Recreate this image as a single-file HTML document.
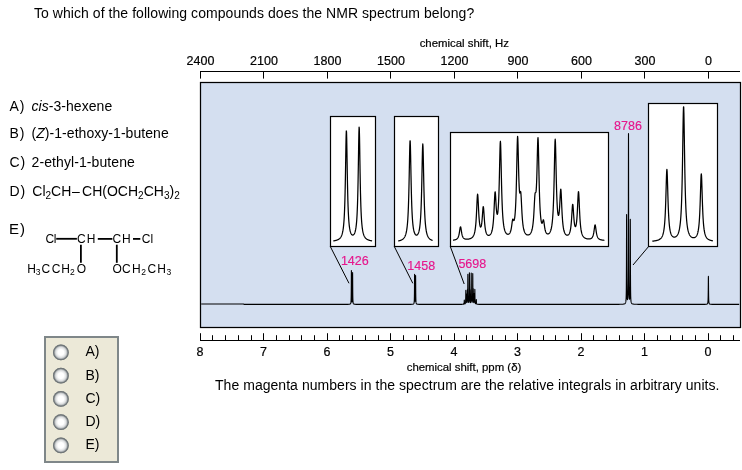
<!DOCTYPE html>
<html><head><meta charset="utf-8"><style>
html,body{margin:0;padding:0;background:#fff;}
body{width:742px;height:470px;overflow:hidden;position:relative;}
svg text{font-family:"Liberation Sans",Arial,sans-serif;}
.q{font-size:14px;fill:#000;}
.sub{font-size:10px;}
.st{font-size:12px;fill:#000;}
.ssub{font-size:8.5px;letter-spacing:0;}
.r{font-size:14px;fill:#000;}
.ax{font-size:12.5px;fill:#000;stroke:#000;stroke-width:0.2px;}
.mg{font-size:12.5px;fill:#e6168c;stroke:#e6168c;stroke-width:0.15px;}
</style></head><body>
<svg width="742" height="470" viewBox="0 0 742 470" style="position:absolute;left:0;top:0">
<defs>
<radialGradient id="rg" cx="50%" cy="50%" r="50%">
<stop offset="0" stop-color="#ffffff"/>
<stop offset="0.36" stop-color="#ffffff"/>
<stop offset="0.64" stop-color="#dfe1e2"/>
<stop offset="0.83" stop-color="#a2a7aa"/>
<stop offset="1" stop-color="#6c7275"/>
</radialGradient>
</defs>
<text x="34" y="18" class="q" textLength="440.2" lengthAdjust="spacing">To which of the following compounds does the NMR spectrum belong?</text>
<text x="72" y="196.3" class="q">–</text>
<text x="82.1" y="196.3" class="q">CH(OCH<tspan class="sub" dy="3">2</tspan><tspan dy="-3">CH</tspan><tspan class="sub" dy="3">3</tspan><tspan dy="-3">)</tspan><tspan class="sub" dy="3">2</tspan></text>
<text x="9.5" y="111.0" class="q">A<tspan dx="0.8">)</tspan></text>
<text x="31.5" y="111.0" class="q" textLength="80.7" lengthAdjust="spacing"><tspan font-style="italic">cis</tspan>-3-hexene</text>
<text x="9.5" y="138.4" class="q">B<tspan dx="0.8">)</tspan></text>
<text x="31.5" y="138.4" class="q" textLength="137.2" lengthAdjust="spacing">(<tspan font-style="italic">Z</tspan>)-1-ethoxy-1-butene</text>
<text x="9.5" y="166.6" class="q">C<tspan dx="0.8">)</tspan></text>
<text x="31.5" y="166.6" class="q" textLength="103.4" lengthAdjust="spacing">2-ethyl-1-butene</text>
<text x="9.5" y="196.3" class="q">D<tspan dx="0.8">)</tspan></text>
<text x="32.3" y="196.3" class="q">Cl<tspan class="sub" dy="3">2</tspan><tspan dy="-3">CH</tspan></text>
<text x="9" y="233.8" class="q" style="font-size:15px">E<tspan dx="0.9">)</tspan></text>
<text class="st" y="242.8"><tspan x="45.5 53.8">Cl</tspan><tspan x="77 86.75">CH</tspan><tspan x="112.6 121.95">CH</tspan><tspan x="141.7 150.4">Cl</tspan></text>
<text class="st" y="272.6"><tspan x="27.15">H</tspan><tspan class="ssub" x="35.65" y="274.9">3</tspan><tspan x="41.4 51.8 61.15" y="272.6">CCH</tspan><tspan class="ssub" x="69.95" y="274.9">2</tspan><tspan x="76.7" y="272.6">O</tspan></text>
<text class="st" y="272.6"><tspan x="112.5 122.1 132.05">OCH</tspan><tspan class="ssub" x="141.25" y="274.9">2</tspan><tspan x="147.5 157.25" y="272.6">CH</tspan><tspan class="ssub" x="166.55" y="274.9">3</tspan></text>
<line x1="56.2" y1="238.8" x2="76.9" y2="238.8" stroke="#000" stroke-width="1.8"/>
<line x1="97.8" y1="238.9" x2="112.4" y2="238.9" stroke="#000" stroke-width="1.8"/>
<line x1="133" y1="238.9" x2="140.3" y2="238.9" stroke="#000" stroke-width="1.8"/>
<line x1="80.9" y1="244.7" x2="80.9" y2="262.8" stroke="#000" stroke-width="1.8"/>
<line x1="116.8" y1="244.7" x2="116.8" y2="262.8" stroke="#000" stroke-width="1.8"/>
<rect x="45" y="337" width="73" height="125" fill="#ece9d8" stroke="#7f8789" stroke-width="2"/>
<circle cx="60.9" cy="352.40" r="7.9" fill="url(#rg)"/>
<circle cx="60.9" cy="352.40" r="7.25" fill="none" stroke="#6a7073" stroke-width="1.1" stroke-opacity="0.8"/>
<text x="85.5" y="356.30" class="r">A)</text>
<circle cx="60.9" cy="375.65" r="7.9" fill="url(#rg)"/>
<circle cx="60.9" cy="375.65" r="7.25" fill="none" stroke="#6a7073" stroke-width="1.1" stroke-opacity="0.8"/>
<text x="85.5" y="379.55" class="r">B)</text>
<circle cx="60.9" cy="398.90" r="7.9" fill="url(#rg)"/>
<circle cx="60.9" cy="398.90" r="7.25" fill="none" stroke="#6a7073" stroke-width="1.1" stroke-opacity="0.8"/>
<text x="85.5" y="402.80" class="r">C)</text>
<circle cx="60.9" cy="422.15" r="7.9" fill="url(#rg)"/>
<circle cx="60.9" cy="422.15" r="7.25" fill="none" stroke="#6a7073" stroke-width="1.1" stroke-opacity="0.8"/>
<text x="85.5" y="426.05" class="r">D)</text>
<circle cx="60.9" cy="445.40" r="7.9" fill="url(#rg)"/>
<circle cx="60.9" cy="445.40" r="7.25" fill="none" stroke="#6a7073" stroke-width="1.1" stroke-opacity="0.8"/>
<text x="85.5" y="449.30" class="r">E)</text>
<text x="464.3" y="46.8" class="ax" text-anchor="middle" style="font-size:11.4px">chemical shift, Hz</text>
<text x="708.50" y="64.8" class="ax" text-anchor="middle">0</text>
<line x1="708.5" y1="71" x2="708.5" y2="78.6" stroke="#000" stroke-width="1.05"/>
<text x="645.00" y="64.8" class="ax" text-anchor="middle">300</text>
<line x1="644.5" y1="71" x2="644.5" y2="78.6" stroke="#000" stroke-width="1.05"/>
<text x="581.50" y="64.8" class="ax" text-anchor="middle">600</text>
<line x1="581.5" y1="71" x2="581.5" y2="78.6" stroke="#000" stroke-width="1.05"/>
<text x="518.00" y="64.8" class="ax" text-anchor="middle">900</text>
<line x1="517.5" y1="71" x2="517.5" y2="78.6" stroke="#000" stroke-width="1.05"/>
<text x="454.50" y="64.8" class="ax" text-anchor="middle">1200</text>
<line x1="454.5" y1="71" x2="454.5" y2="78.6" stroke="#000" stroke-width="1.05"/>
<text x="391.00" y="64.8" class="ax" text-anchor="middle">1500</text>
<line x1="390.5" y1="71" x2="390.5" y2="78.6" stroke="#000" stroke-width="1.05"/>
<text x="327.50" y="64.8" class="ax" text-anchor="middle">1800</text>
<line x1="327.5" y1="71" x2="327.5" y2="78.6" stroke="#000" stroke-width="1.05"/>
<text x="264.00" y="64.8" class="ax" text-anchor="middle">2100</text>
<line x1="263.5" y1="71" x2="263.5" y2="78.6" stroke="#000" stroke-width="1.05"/>
<text x="200.50" y="64.8" class="ax" text-anchor="middle">2400</text>
<line x1="200.5" y1="71" x2="200.5" y2="78.6" stroke="#000" stroke-width="1.05"/>
<line x1="200" y1="71.5" x2="740" y2="71.5" stroke="#000" stroke-width="1.05"/>
<rect x="200.5" y="82.5" width="540" height="245" fill="#d4dff0" stroke="#000" stroke-width="1.25"/>
<line x1="200" y1="340.5" x2="740" y2="340.5" stroke="#000" stroke-width="1.05"/>
<line x1="200.5" y1="333.2" x2="200.5" y2="340.5" stroke="#000" stroke-width="1.05"/>
<line x1="212.5" y1="335.2" x2="212.5" y2="340.5" stroke="#000" stroke-width="1.05"/>
<line x1="225.5" y1="335.2" x2="225.5" y2="340.5" stroke="#000" stroke-width="1.05"/>
<line x1="238.5" y1="335.2" x2="238.5" y2="340.5" stroke="#000" stroke-width="1.05"/>
<line x1="251.5" y1="335.2" x2="251.5" y2="340.5" stroke="#000" stroke-width="1.05"/>
<line x1="263.5" y1="333.2" x2="263.5" y2="340.5" stroke="#000" stroke-width="1.05"/>
<line x1="276.5" y1="335.2" x2="276.5" y2="340.5" stroke="#000" stroke-width="1.05"/>
<line x1="289.5" y1="335.2" x2="289.5" y2="340.5" stroke="#000" stroke-width="1.05"/>
<line x1="301.5" y1="335.2" x2="301.5" y2="340.5" stroke="#000" stroke-width="1.05"/>
<line x1="314.5" y1="335.2" x2="314.5" y2="340.5" stroke="#000" stroke-width="1.05"/>
<line x1="327.5" y1="333.2" x2="327.5" y2="340.5" stroke="#000" stroke-width="1.05"/>
<line x1="339.5" y1="335.2" x2="339.5" y2="340.5" stroke="#000" stroke-width="1.05"/>
<line x1="352.5" y1="335.2" x2="352.5" y2="340.5" stroke="#000" stroke-width="1.05"/>
<line x1="365.5" y1="335.2" x2="365.5" y2="340.5" stroke="#000" stroke-width="1.05"/>
<line x1="378.5" y1="335.2" x2="378.5" y2="340.5" stroke="#000" stroke-width="1.05"/>
<line x1="390.5" y1="333.2" x2="390.5" y2="340.5" stroke="#000" stroke-width="1.05"/>
<line x1="403.5" y1="335.2" x2="403.5" y2="340.5" stroke="#000" stroke-width="1.05"/>
<line x1="416.5" y1="335.2" x2="416.5" y2="340.5" stroke="#000" stroke-width="1.05"/>
<line x1="428.5" y1="335.2" x2="428.5" y2="340.5" stroke="#000" stroke-width="1.05"/>
<line x1="441.5" y1="335.2" x2="441.5" y2="340.5" stroke="#000" stroke-width="1.05"/>
<line x1="454.5" y1="333.2" x2="454.5" y2="340.5" stroke="#000" stroke-width="1.05"/>
<line x1="466.5" y1="335.2" x2="466.5" y2="340.5" stroke="#000" stroke-width="1.05"/>
<line x1="479.5" y1="335.2" x2="479.5" y2="340.5" stroke="#000" stroke-width="1.05"/>
<line x1="492.5" y1="335.2" x2="492.5" y2="340.5" stroke="#000" stroke-width="1.05"/>
<line x1="505.5" y1="335.2" x2="505.5" y2="340.5" stroke="#000" stroke-width="1.05"/>
<line x1="517.5" y1="333.2" x2="517.5" y2="340.5" stroke="#000" stroke-width="1.05"/>
<line x1="530.5" y1="335.2" x2="530.5" y2="340.5" stroke="#000" stroke-width="1.05"/>
<line x1="543.5" y1="335.2" x2="543.5" y2="340.5" stroke="#000" stroke-width="1.05"/>
<line x1="555.5" y1="335.2" x2="555.5" y2="340.5" stroke="#000" stroke-width="1.05"/>
<line x1="568.5" y1="335.2" x2="568.5" y2="340.5" stroke="#000" stroke-width="1.05"/>
<line x1="581.5" y1="333.2" x2="581.5" y2="340.5" stroke="#000" stroke-width="1.05"/>
<line x1="593.5" y1="335.2" x2="593.5" y2="340.5" stroke="#000" stroke-width="1.05"/>
<line x1="606.5" y1="335.2" x2="606.5" y2="340.5" stroke="#000" stroke-width="1.05"/>
<line x1="619.5" y1="335.2" x2="619.5" y2="340.5" stroke="#000" stroke-width="1.05"/>
<line x1="632.5" y1="335.2" x2="632.5" y2="340.5" stroke="#000" stroke-width="1.05"/>
<line x1="644.5" y1="333.2" x2="644.5" y2="340.5" stroke="#000" stroke-width="1.05"/>
<line x1="657.5" y1="335.2" x2="657.5" y2="340.5" stroke="#000" stroke-width="1.05"/>
<line x1="670.5" y1="335.2" x2="670.5" y2="340.5" stroke="#000" stroke-width="1.05"/>
<line x1="682.5" y1="335.2" x2="682.5" y2="340.5" stroke="#000" stroke-width="1.05"/>
<line x1="695.5" y1="335.2" x2="695.5" y2="340.5" stroke="#000" stroke-width="1.05"/>
<line x1="708.5" y1="333.2" x2="708.5" y2="340.5" stroke="#000" stroke-width="1.05"/>
<line x1="720.5" y1="335.2" x2="720.5" y2="340.5" stroke="#000" stroke-width="1.05"/>
<line x1="733.5" y1="335.2" x2="733.5" y2="340.5" stroke="#000" stroke-width="1.05"/>
<text x="708.10" y="356" class="ax" text-anchor="middle">0</text>
<text x="644.60" y="356" class="ax" text-anchor="middle">1</text>
<text x="581.10" y="356" class="ax" text-anchor="middle">2</text>
<text x="517.60" y="356" class="ax" text-anchor="middle">3</text>
<text x="454.10" y="356" class="ax" text-anchor="middle">4</text>
<text x="390.60" y="356" class="ax" text-anchor="middle">5</text>
<text x="327.10" y="356" class="ax" text-anchor="middle">6</text>
<text x="263.60" y="356" class="ax" text-anchor="middle">7</text>
<text x="200.10" y="356" class="ax" text-anchor="middle">8</text>
<text x="464" y="370.7" class="ax" text-anchor="middle" style="font-size:11.4px">chemical shift, ppm (δ)</text>
<text x="215" y="389.7" class="q" textLength="504.4" lengthAdjust="spacing">The magenta numbers in the spectrum are the relative integrals in arbitrary units.</text>
<polyline points="201.2,303.95 201.7,303.95 202.2,303.95 202.7,303.95 203.2,303.95 203.7,303.95 204.2,303.95 204.7,303.95 205.2,303.95 205.7,303.95 206.2,303.95 206.7,303.95 207.2,303.95 207.7,303.95 208.2,303.95 208.7,303.95 209.2,303.95 209.7,303.95 210.2,303.95 210.7,303.95 211.2,303.95 211.7,303.95 212.2,303.95 212.7,303.95 213.2,303.95 213.7,303.95 214.2,303.95 214.7,303.95 215.2,303.95 215.7,303.95 216.2,303.95 216.7,303.95 217.2,303.95 217.7,303.95 218.2,303.95 218.7,303.95 219.2,303.95 219.7,303.95 220.2,303.95 220.7,303.95 221.2,303.95 221.7,303.95 222.2,303.95 222.7,303.95 223.2,303.95 223.7,303.95 224.2,303.95 224.7,303.95 225.2,303.95 225.7,303.95 226.2,303.95 226.7,303.95 227.2,303.95 227.7,303.95 228.2,303.95 228.7,303.95 229.2,303.95 229.7,303.95 230.2,303.95 230.7,303.95 231.2,303.95 231.7,303.95 232.2,303.95 232.7,303.95 233.2,303.95 233.7,303.95 234.2,303.95 234.7,303.95 235.2,303.95 235.7,303.95 236.2,303.95 236.7,303.95 237.2,303.95 237.7,303.95 238.2,303.95 238.7,303.95 239.2,303.95 239.7,303.95 240.2,303.95 240.7,303.95 241.2,303.95 241.7,303.95 242.2,303.95 242.7,303.95 243.2,303.95 243.7,303.95 243.9,304.4 244.2,304.4 244.7,304.4 245.2,304.4 245.7,304.4 246.2,304.4 246.7,304.4 247.2,304.4 247.7,304.4 248.2,304.4 248.7,304.4 249.2,304.4 249.7,304.4 250.2,304.4 250.7,304.4 251.2,304.4 251.7,304.4 252.2,304.4 252.7,304.4 253.2,304.4 253.7,304.4 254.2,304.4 254.7,304.4 255.2,304.4 255.7,304.4 256.2,304.4 256.7,304.4 257.2,304.4 257.7,304.4 258.2,304.4 258.7,304.4 259.2,304.4 259.7,304.4 260.2,304.4 260.7,304.4 261.2,304.4 261.7,304.4 262.2,304.4 262.7,304.4 263.2,304.4 263.7,304.4 264.2,304.4 264.7,304.4 265.2,304.4 265.7,304.4 266.2,304.4 266.7,304.4 267.2,304.4 267.7,304.4 268.2,304.4 268.7,304.4 269.2,304.4 269.7,304.4 270.2,304.4 270.7,304.4 271.2,304.4 271.7,304.4 272.2,304.4 272.7,304.4 273.2,304.4 273.7,304.4 274.2,304.4 274.7,304.4 275.2,304.4 275.7,304.4 276.2,304.4 276.7,304.4 277.2,304.4 277.7,304.4 278.2,304.4 278.7,304.4 279.2,304.4 279.7,304.4 280.2,304.4 280.7,304.4 281.2,304.4 281.7,304.4 282.2,304.4 282.7,304.4 283.2,304.4 283.7,304.4 284.2,304.4 284.7,304.4 285.2,304.4 285.7,304.4 286.2,304.4 286.7,304.4 287.2,304.4 287.7,304.4 288.2,304.4 288.7,304.4 289.2,304.4 289.7,304.4 290.2,304.4 290.7,304.4 291.2,304.4 291.7,304.4 292.2,304.4 292.7,304.4 293.2,304.4 293.7,304.4 294.2,304.4 294.7,304.4 295.2,304.4 295.7,304.4 296.2,304.4 296.7,304.4 297.2,304.4 297.7,304.4 298.2,304.4 298.7,304.4 299.2,304.4 299.7,304.4 300.2,304.4 300.7,304.4 301.2,304.4 301.7,304.4 302.2,304.4 302.7,304.4 303.2,304.4 303.7,304.4 304.2,304.4 304.7,304.4 305.2,304.4 305.7,304.4 306.2,304.4 306.7,304.4 307.2,304.4 307.7,304.4 308.2,304.4 308.7,304.4 309.2,304.4 309.7,304.4 310.2,304.4 310.7,304.4 311.2,304.4 311.7,304.4 312.2,304.4 312.7,304.4 313.2,304.4 313.7,304.4 314.2,304.4 314.7,304.4 315.2,304.4 315.7,304.4 316.2,304.4 316.7,304.4 317.2,304.4 317.7,304.4 318.2,304.4 318.7,304.4 319.2,304.4 319.7,304.4 320.2,304.4 320.7,304.4 321.2,304.4 321.7,304.4 322.2,304.4 322.7,304.4 323.2,304.4 323.7,304.4 324.2,304.4 324.7,304.4 325.2,304.4 325.7,304.4 326.2,304.4 326.7,304.4 327.2,304.4 327.7,304.4 328.2,304.4 328.7,304.4 329.2,304.4 329.7,304.4 330.2,304.4 330.7,304.4 331.2,304.4 331.7,304.4 332.2,304.4 332.7,304.4 333.2,304.4 333.7,304.4 334.2,304.4 334.7,304.4 335.2,304.4 335.7,304.4 336.2,304.4 336.7,304.4 337.2,304.4 337.7,304.39 338.2,304.39 338.7,304.39 339.2,304.39 339.7,304.39 340.2,304.39 340.7,304.39 341.2,304.39 341.7,304.39 342.2,304.39 342.7,304.39 343.2,304.39 343.7,304.39 344.2,304.38 344.7,304.38 345.2,304.38 345.7,304.38 346.2,304.37 346.7,304.36 347.2,304.36 347.7,304.35 348.2,304.33 348.7,304.3 349.2,304.26 349.7,304.18 349.9,304.12 349.95,304.11 350,304.09 350.05,304.07 350.1,304.04 350.15,304.02 350.2,303.99 350.25,303.96 350.3,303.92 350.35,303.88 350.4,303.83 350.45,303.78 350.5,303.71 350.55,303.64 350.6,303.55 350.65,303.44 350.7,303.32 350.75,303.16 350.8,302.97 350.85,302.73 350.9,302.42 350.95,302.01 351,301.46 351.05,300.69 351.1,299.58 351.1,299.58 351.15,297.91 351.15,297.91 351.2,295.3 351.2,295.3 351.25,291.08 351.3,284.36 351.3,284.36 351.35,275.57 351.35,275.57 351.4,270.59 351.4,270.59 351.45,275.52 351.45,275.52 351.5,284.26 351.55,290.92 351.55,290.92 351.6,295.08 351.6,295.08 351.65,297.63 351.65,297.63 351.7,299.23 351.7,299.23 351.75,300.26 351.8,300.94 351.8,300.94 351.85,301.39 351.85,301.39 351.9,301.68 351.9,301.68 351.95,301.84 351.95,301.84 352,301.9 352.05,301.86 352.05,301.86 352.1,301.73 352.1,301.73 352.15,301.47 352.15,301.47 352.2,301.06 352.2,301.06 352.25,300.43 352.3,299.47 352.3,299.47 352.35,297.97 352.35,297.97 352.4,295.59 352.4,295.59 352.45,291.67 352.45,291.67 352.5,285.42 352.55,277.2 352.55,277.2 352.6,272.57 352.6,272.57 352.65,277.25 352.65,277.25 352.7,285.53 352.7,285.53 352.75,291.84 352.8,295.82 352.8,295.82 352.85,298.27 352.85,298.27 352.9,299.84 352.9,299.84 352.95,300.89 353,301.61 353.05,302.13 353.1,302.52 353.15,302.81 353.2,303.04 353.2,303.04 353.25,303.22 353.3,303.37 353.35,303.49 353.4,303.59 353.45,303.67 353.5,303.74 353.55,303.8 353.6,303.85 353.65,303.9 353.7,303.94 353.7,303.94 353.75,303.97 353.8,304 353.85,304.03 353.9,304.06 353.95,304.08 354,304.1 354.05,304.12 354.1,304.13 354.2,304.16 354.7,304.25 355.2,304.3 355.7,304.33 356.2,304.34 356.7,304.36 357.2,304.36 357.7,304.37 358.2,304.37 358.7,304.38 359.2,304.38 359.7,304.38 360.2,304.39 360.7,304.39 361.2,304.39 361.7,304.39 362.2,304.39 362.7,304.39 363.2,304.39 363.7,304.39 364.2,304.39 364.7,304.39 365.2,304.39 365.7,304.39 366.2,304.39 366.7,304.39 367.2,304.4 367.7,304.4 368.2,304.4 368.7,304.4 369.2,304.4 369.7,304.4 370.2,304.4 370.7,304.4 371.2,304.4 371.7,304.4 372.2,304.4 372.7,304.4 373.2,304.4 373.7,304.4 374.2,304.4 374.7,304.4 375.2,304.4 375.7,304.4 376.2,304.4 376.7,304.4 377.2,304.4 377.7,304.4 378.2,304.4 378.7,304.4 379.2,304.4 379.7,304.4 380.2,304.4 380.7,304.4 381.2,304.4 381.7,304.4 382.2,304.4 382.7,304.4 383.2,304.4 383.7,304.4 384.2,304.4 384.7,304.4 385.2,304.4 385.7,304.4 386.2,304.4 386.7,304.4 387.2,304.4 387.7,304.4 388.2,304.4 388.7,304.4 389.2,304.4 389.7,304.4 390.2,304.4 390.7,304.4 391.2,304.4 391.7,304.4 392.2,304.4 392.7,304.4 393.2,304.4 393.7,304.4 394.2,304.4 394.7,304.4 395.2,304.4 395.7,304.4 396.2,304.4 396.7,304.4 397.2,304.4 397.7,304.4 398.2,304.4 398.7,304.4 399.2,304.4 399.7,304.4 400.2,304.4 400.7,304.39 401.2,304.39 401.7,304.39 402.2,304.39 402.7,304.39 403.2,304.39 403.7,304.39 404.2,304.39 404.7,304.39 405.2,304.39 405.7,304.39 406.2,304.39 406.7,304.39 407.2,304.39 407.7,304.38 408.2,304.38 408.7,304.38 409.2,304.37 409.7,304.37 410.2,304.36 410.7,304.35 411.2,304.34 411.7,304.32 412.2,304.29 412.7,304.23 413.1,304.14 413.15,304.13 413.2,304.11 413.2,304.11 413.25,304.09 413.3,304.07 413.35,304.05 413.4,304.02 413.45,303.99 413.5,303.96 413.55,303.92 413.6,303.87 413.65,303.82 413.7,303.76 413.7,303.76 413.75,303.7 413.8,303.62 413.85,303.52 413.9,303.41 413.95,303.27 414,303.09 414.05,302.87 414.1,302.59 414.15,302.23 414.2,301.73 414.2,301.73 414.25,301.04 414.3,300.05 414.35,298.56 414.4,296.23 414.45,292.46 414.5,286.48 414.55,278.64 414.6,274.19 414.65,278.56 414.7,286.31 414.7,286.31 414.75,292.21 414.8,295.88 414.85,298.11 414.9,299.47 414.95,300.32 415,300.84 415.05,301.13 415.1,301.22 415.15,301.15 415.2,300.9 415.2,300.9 415.25,300.42 415.3,299.62 415.35,298.32 415.4,296.2 415.45,292.69 415.5,287.06 415.55,279.65 415.6,275.48 415.65,279.73 415.7,287.23 415.7,287.23 415.75,292.96 415.8,296.56 415.85,298.79 415.9,300.22 415.95,301.17 416,301.83 416.05,302.3 416.1,302.66 416.15,302.93 416.2,303.14 416.2,303.14 416.25,303.3 416.3,303.44 416.35,303.55 416.4,303.64 416.45,303.72 416.5,303.78 416.55,303.84 416.6,303.89 416.65,303.93 416.7,303.97 416.7,303.97 416.75,304 416.8,304.03 416.85,304.05 416.9,304.08 416.95,304.1 417,304.12 417.05,304.13 417.1,304.15 417.2,304.18 417.7,304.26 418.2,304.3 418.7,304.33 419.2,304.35 419.7,304.36 420.2,304.37 420.7,304.37 421.2,304.38 421.7,304.38 422.2,304.38 422.7,304.38 423.2,304.39 423.7,304.39 424.2,304.39 424.7,304.39 425.2,304.39 425.7,304.39 426.2,304.39 426.7,304.39 427.2,304.39 427.7,304.39 428.2,304.39 428.7,304.39 429.2,304.39 429.7,304.39 430.2,304.39 430.7,304.39 431.2,304.39 431.7,304.39 432.2,304.39 432.7,304.39 433.2,304.39 433.7,304.39 434.2,304.4 434.7,304.4 435.2,304.4 435.7,304.4 436.2,304.4 436.7,304.4 437.2,304.4 437.7,304.4 438.2,304.4 438.7,304.4 439.2,304.4 439.7,304.39 440.2,304.39 440.7,304.39 441.2,304.39 441.7,304.39 442.2,304.39 442.7,304.39 443.2,304.39 443.7,304.39 444.2,304.39 444.7,304.39 445.2,304.39 445.7,304.39 446.2,304.39 446.7,304.39 447.2,304.39 447.7,304.39 448.2,304.39 448.7,304.39 449.2,304.39 449.7,304.39 450.2,304.39 450.7,304.39 451.2,304.39 451.7,304.39 452.2,304.39 452.7,304.39 453.2,304.39 453.7,304.39 454.2,304.39 454.7,304.39 455.2,304.38 455.7,304.38 456.2,304.38 456.7,304.38 457.2,304.38 457.7,304.38 458.2,304.37 458.7,304.37 459.2,304.37 459.7,304.36 460.2,304.36 460.7,304.35 461.2,304.35 461.7,304.34 462.2,304.32 462.7,304.3 462.8,304.29 462.85,304.29 462.9,304.28 462.95,304.28 463,304.28 463.05,304.27 463.1,304.27 463.15,304.26 463.2,304.25 463.25,304.25 463.3,304.24 463.35,304.23 463.4,304.22 463.45,304.21 463.5,304.2 463.55,304.18 463.6,304.17 463.65,304.14 463.7,304.12 463.75,304.09 463.8,304.05 463.85,304 463.9,303.93 463.95,303.84 464,303.7 464.05,303.5 464.1,303.19 464.15,302.68 464.2,301.85 464.25,300.73 464.3,300.08 464.33,300.28 464.35,300.71 464.38,301.32 464.4,301.81 464.43,302.29 464.45,302.62 464.48,302.92 464.5,303.12 464.53,303.29 464.55,303.41 464.58,303.52 464.6,303.59 464.63,303.66 464.65,303.71 464.68,303.75 464.7,303.78 464.73,303.8 464.75,303.82 464.78,303.84 464.8,303.84 464.83,303.85 464.84,303.85 464.85,303.85 464.88,303.86 464.89,303.86 464.9,303.85 464.93,303.85 464.94,303.85 464.95,303.84 464.98,303.83 464.99,303.83 465,303.82 465.03,303.81 465.04,303.8 465.05,303.79 465.08,303.77 465.09,303.77 465.1,303.75 465.13,303.73 465.14,303.72 465.15,303.7 465.18,303.67 465.19,303.66 465.2,303.64 465.23,303.59 465.24,303.58 465.25,303.55 465.28,303.5 465.29,303.48 465.3,303.44 465.33,303.37 465.34,303.34 465.35,303.3 465.38,303.21 465.39,303.17 465.4,303.11 465.43,302.98 465.44,302.93 465.45,302.85 465.48,302.67 465.49,302.61 465.5,302.49 465.53,302.23 465.54,302.13 465.55,301.96 465.58,301.57 465.59,301.42 465.6,301.14 465.63,300.53 465.64,300.28 465.65,299.85 465.68,298.84 465.69,298.44 465.7,297.72 465.73,296.1 465.74,295.48 465.75,294.44 465.78,292.41 465.79,291.79 465.8,290.95 465.83,290.22 465.84,290.28 465.88,292.22 465.89,292.84 465.89,293.1 465.93,295.69 465.94,296.23 465.94,296.43 465.98,298.18 465.99,298.49 465.99,298.61 466.03,299.54 466.04,299.69 466.04,299.75 466.08,300.12 466.09,300.16 466.09,300.17 466.13,300.1 466.14,300.03 466.14,300 466.18,299.46 466.19,299.26 466.19,299.18 466.2,298.9 466.23,298.01 466.24,297.65 466.24,297.5 466.28,295.73 466.29,295.31 466.29,295.15 466.33,294 466.34,293.97 466.34,293.98 466.36,294.48 466.38,295.07 466.39,295.51 466.39,295.69 466.41,296.92 466.43,297.64 466.44,298.07 466.44,298.24 466.46,299.19 466.48,299.69 466.49,299.96 466.49,300.07 466.51,300.65 466.53,300.95 466.54,301.12 466.54,301.18 466.56,301.53 466.58,301.71 466.59,301.81 466.59,301.84 466.61,302.05 466.63,302.16 466.64,302.22 466.64,302.25 466.66,302.37 466.68,302.44 466.69,302.48 466.69,302.49 466.7,302.53 466.71,302.56 466.73,302.6 466.74,302.62 466.74,302.63 466.76,302.66 466.78,302.68 466.79,302.69 466.79,302.69 466.81,302.69 466.83,302.69 466.84,302.69 466.84,302.69 466.86,302.67 466.88,302.65 466.89,302.63 466.89,302.63 466.91,302.58 466.93,302.55 466.94,302.52 466.94,302.51 466.96,302.43 466.98,302.37 466.99,302.33 466.99,302.31 467.01,302.19 467.03,302.11 467.04,302.05 467.04,302.02 467.06,301.84 467.08,301.71 467.09,301.62 467.09,301.58 467.11,301.31 467.13,301.11 467.14,300.97 467.14,300.91 467.16,300.49 467.18,300.17 467.19,299.96 467.19,299.87 467.2,299.57 467.21,299.18 467.23,298.68 467.24,298.32 467.24,298.17 467.26,297.05 467.28,296.24 467.29,295.68 467.29,295.45 467.31,293.79 467.33,292.71 467.34,292.03 467.34,291.77 467.36,290.29 467.39,289.51 467.39,289.48 467.41,289.81 467.44,290.91 467.44,291.11 467.46,292.43 467.46,292.54 467.49,293.87 467.49,294.06 467.51,295.01 467.51,295.08 467.54,295.79 467.54,295.87 467.56,296.22 467.56,296.24 467.59,296.33 467.59,296.32 467.61,296.14 467.61,296.11 467.64,295.64 467.64,295.54 467.66,294.79 467.66,294.71 467.69,293.54 467.69,293.32 467.7,292.61 467.71,291.79 467.71,291.65 467.74,289.45 467.74,289.06 467.76,286.42 467.76,286.18 467.79,282.76 467.79,282.2 467.81,278.85 467.81,278.58 467.84,275.58 467.84,275.24 467.86,274.19 467.86,274.19 467.89,275.72 467.9,276.78 467.91,278.57 467.91,278.85 467.94,283.19 467.95,284.61 467.96,286.5 467.96,286.75 467.99,290.21 468,291.2 468.01,292.44 468.01,292.6 468.04,294.75 468.05,295.35 468.06,296.1 468.06,296.2 468.09,297.5 468.1,297.87 468.11,298.33 468.11,298.39 468.14,299.2 468.15,299.43 468.16,299.73 468.16,299.77 468.18,300.2 468.19,300.29 468.2,300.45 468.2,300.48 468.21,300.64 468.21,300.67 468.23,300.96 468.24,301.02 468.25,301.12 468.26,301.26 468.26,301.28 468.28,301.47 468.29,301.52 468.3,301.59 468.31,301.68 468.31,301.69 468.33,301.83 468.34,301.86 468.35,301.91 468.36,301.97 468.36,301.98 468.38,302.07 468.39,302.1 468.4,302.13 468.41,302.17 468.41,302.18 468.43,302.24 468.44,302.25 468.45,302.27 468.46,302.29 468.46,302.3 468.48,302.33 468.49,302.34 468.5,302.34 468.51,302.35 468.51,302.36 468.53,302.36 468.54,302.36 468.55,302.36 468.56,302.36 468.56,302.36 468.58,302.34 468.59,302.33 468.6,302.32 468.61,302.3 468.61,302.3 468.63,302.25 468.64,302.24 468.65,302.21 468.66,302.17 468.66,302.17 468.68,302.08 468.69,302.06 468.7,302.02 468.7,302.01 468.71,301.95 468.71,301.94 468.73,301.8 468.74,301.76 468.75,301.69 468.76,301.58 468.76,301.56 468.78,301.34 468.79,301.27 468.8,301.16 468.81,300.98 468.81,300.96 468.83,300.59 468.84,300.49 468.85,300.31 468.86,300.04 468.86,300 468.88,299.46 468.89,299.32 468.9,299.08 468.91,298.75 468.91,298.7 468.93,298.19 468.95,297.94 468.96,297.8 468.96,297.78 468.98,297.73 469,297.8 469.01,297.89 469.01,297.91 469.03,298.08 469.05,298.16 469.06,298.2 469.06,298.2 469.08,298.16 469.1,298.05 469.11,297.91 469.11,297.88 469.13,297.49 469.15,297.14 469.16,296.76 469.16,296.7 469.18,295.87 469.2,295.17 469.2,295.08 469.21,294.47 469.21,294.36 469.23,292.86 469.25,291.64 469.26,290.41 469.26,290.23 469.28,287.69 469.3,285.72 469.31,283.81 469.31,283.52 469.33,279.97 469.35,277.61 469.36,275.72 469.36,275.47 469.38,273.24 469.4,272.7 469.41,272.94 469.43,274.93 469.45,276.84 469.45,277.36 469.46,278.69 469.48,282.1 469.5,283.99 469.5,284.42 469.51,285.43 469.53,287.55 469.55,288.49 469.55,288.69 469.56,289.11 469.58,289.76 469.6,289.89 469.6,289.9 469.61,289.87 469.63,289.62 469.65,289.45 469.65,289.42 469.66,289.38 469.68,289.65 469.7,290.14 469.7,290.22 469.7,290.3 469.71,290.76 469.72,291.29 469.73,292.24 469.75,293.25 469.75,293.5 469.76,294.12 469.77,294.72 469.78,295.62 469.8,296.44 469.8,296.63 469.81,297.08 469.82,297.5 469.83,298.1 469.85,298.62 469.85,298.74 469.86,299.03 469.87,299.29 469.88,299.67 469.9,300 469.9,300.07 469.91,300.25 469.92,300.42 469.93,300.66 469.95,300.88 469.95,300.93 469.96,301.04 469.97,301.15 469.98,301.32 470,301.46 470,301.49 470.01,301.57 470.02,301.65 470.03,301.76 470.05,301.86 470.05,301.88 470.06,301.94 470.07,301.99 470.08,302.07 470.1,302.14 470.1,302.15 470.11,302.19 470.12,302.23 470.13,302.28 470.15,302.33 470.15,302.34 470.16,302.36 470.17,302.39 470.18,302.43 470.2,302.46 470.2,302.46 470.2,302.46 470.21,302.48 470.22,302.5 470.23,302.52 470.25,302.54 470.25,302.54 470.26,302.55 470.27,302.56 470.28,302.57 470.3,302.57 470.3,302.57 470.31,302.58 470.32,302.58 470.33,302.58 470.35,302.57 470.35,302.57 470.36,302.57 470.37,302.56 470.38,302.55 470.4,302.53 470.4,302.53 470.41,302.51 470.42,302.5 470.43,302.48 470.45,302.45 470.45,302.44 470.46,302.42 470.47,302.4 470.48,302.36 470.5,302.31 470.5,302.3 470.51,302.27 470.52,302.24 470.53,302.18 470.55,302.11 470.55,302.09 470.56,302.05 470.57,302 470.58,301.92 470.6,301.82 470.6,301.8 470.61,301.73 470.62,301.67 470.63,301.54 470.65,301.41 470.65,301.37 470.66,301.28 470.67,301.18 470.68,301 470.7,300.8 470.7,300.77 470.7,300.75 470.71,300.61 470.72,300.45 470.73,300.19 470.75,299.88 470.75,299.8 470.76,299.58 470.77,299.34 470.78,298.92 470.8,298.44 470.8,298.31 470.81,297.96 470.82,297.59 470.83,296.92 470.85,296.17 470.85,295.97 470.86,295.44 470.87,294.89 470.88,293.95 470.9,292.99 470.9,292.75 470.91,292.16 470.92,291.61 470.93,290.85 470.95,290.16 470.96,289.94 470.97,289.8 470.98,289.72 471,289.73 471.01,289.74 471.02,289.71 471.03,289.58 471.05,289.17 471.06,288.84 471.07,288.41 471.08,287.52 471.1,286.03 471.11,285.12 471.12,284.1 471.13,282.27 471.15,279.73 471.16,278.42 471.17,277.14 471.18,275.27 471.2,273.74 471.2,273.62 471.21,273.2 471.22,273.1 471.25,275.4 471.26,275.87 471.26,276.62 471.27,277.98 471.3,283.28 471.31,283.85 471.31,284.68 471.32,286.02 471.35,290.11 471.36,290.5 471.36,291.05 471.37,291.91 471.4,294.41 471.41,294.63 471.41,294.96 471.42,295.46 471.45,296.91 471.46,297.04 471.46,297.23 471.47,297.51 471.5,298.31 471.51,298.38 471.51,298.48 471.52,298.62 471.55,298.95 471.56,298.97 471.56,299 471.57,299.02 471.6,298.95 471.61,298.93 471.61,298.89 471.62,298.81 471.65,298.41 471.66,298.36 471.66,298.29 471.67,298.18 471.7,297.98 471.7,297.98 471.71,297.99 471.71,298.01 471.72,298.08 471.75,298.66 471.76,298.75 471.76,298.75 471.76,298.88 471.77,299.11 471.8,299.93 471.81,300.01 471.81,300.01 471.81,300.14 471.82,300.33 471.85,300.92 471.86,300.98 471.86,300.98 471.86,301.05 471.87,301.18 471.9,301.54 471.91,301.57 471.91,301.57 471.91,301.62 471.92,301.7 471.95,301.91 471.96,301.93 471.96,301.93 471.96,301.96 471.97,302 472,302.13 472.01,302.14 472.01,302.14 472.01,302.15 472.02,302.18 472.05,302.23 472.06,302.24 472.06,302.24 472.06,302.25 472.07,302.25 472.1,302.26 472.11,302.26 472.11,302.26 472.11,302.26 472.12,302.26 472.15,302.23 472.16,302.22 472.16,302.22 472.16,302.21 472.17,302.2 472.2,302.12 472.2,302.12 472.21,302.11 472.21,302.11 472.21,302.09 472.22,302.06 472.25,301.93 472.26,301.92 472.26,301.92 472.26,301.89 472.27,301.85 472.3,301.65 472.31,301.63 472.31,301.63 472.31,301.59 472.32,301.52 472.35,301.24 472.36,301.21 472.36,301.21 472.36,301.15 472.37,301.05 472.4,300.64 472.41,300.59 472.41,300.59 472.41,300.51 472.42,300.36 472.45,299.75 472.46,299.67 472.46,299.67 472.46,299.55 472.47,299.33 472.51,298.27 472.51,298.27 472.51,298.08 472.52,297.73 472.56,296.03 472.56,296.03 472.56,295.72 472.57,295.17 472.61,292.36 472.61,292.36 472.61,291.85 472.62,290.93 472.66,286.39 472.66,286.39 472.66,285.59 472.67,284.2 472.7,279.18 472.71,278.32 472.71,278.32 472.71,277.49 472.72,276.22 472.76,273.57 472.76,273.57 472.76,273.62 472.81,278.07 472.81,278.07 472.81,278.91 472.82,280.06 472.86,285.87 472.86,285.87 472.86,286.61 472.87,287.54 472.91,291.51 472.91,291.51 472.91,291.95 472.92,292.5 472.96,294.72 472.96,294.72 472.96,294.96 472.97,295.24 473.01,296.29 473.01,296.29 473.01,296.38 473.02,296.49 473.06,296.66 473.06,296.66 473.06,296.63 473.07,296.58 473.11,295.89 473.11,295.89 473.11,295.73 473.12,295.5 473.16,293.77 473.16,293.77 473.16,293.46 473.17,293.02 473.2,290.85 473.21,290.5 473.21,290.5 473.21,290.16 473.22,289.73 473.26,288.66 473.26,288.66 473.27,288.89 473.31,291.07 473.31,291.07 473.32,292.06 473.34,293.5 473.36,294.97 473.36,294.97 473.37,295.82 473.39,296.88 473.41,297.87 473.41,297.87 473.42,298.4 473.44,299.06 473.46,299.66 473.46,299.66 473.47,299.99 473.49,300.4 473.51,300.77 473.51,300.77 473.52,300.98 473.54,301.23 473.56,301.48 473.56,301.48 473.57,301.61 473.59,301.78 473.61,301.94 473.61,301.94 473.62,302.03 473.64,302.14 473.66,302.25 473.66,302.25 473.67,302.31 473.69,302.38 473.7,302.43 473.71,302.45 473.71,302.45 473.72,302.49 473.74,302.53 473.76,302.58 473.76,302.58 473.77,302.6 473.79,302.62 473.81,302.64 473.81,302.64 473.82,302.64 473.84,302.65 473.86,302.64 473.86,302.64 473.87,302.63 473.89,302.61 473.91,302.58 473.91,302.58 473.92,302.55 473.94,302.51 473.96,302.44 473.96,302.44 473.97,302.39 473.99,302.31 474.01,302.2 474.01,302.2 474.02,302.12 474.04,301.98 474.06,301.8 474.06,301.8 474.07,301.67 474.09,301.44 474.11,301.15 474.11,301.15 474.12,300.92 474.14,300.55 474.16,300.06 474.16,300.06 474.17,299.68 474.19,299.06 474.2,298.49 474.21,298.25 474.21,298.25 474.22,297.65 474.24,296.71 474.26,295.6 474.26,295.6 474.27,294.9 474.29,294.02 474.31,293.39 474.32,293.25 474.34,293.44 474.36,294.11 474.37,294.7 474.39,295.63 474.41,296.64 474.42,297.23 474.44,297.97 474.46,298.64 474.47,298.98 474.49,299.38 474.51,299.7 474.52,299.84 474.54,299.98 474.56,300.04 474.57,300.03 474.59,299.96 474.61,299.78 474.62,299.62 474.64,299.31 474.66,298.86 474.67,298.49 474.69,297.85 474.7,297.24 474.71,296.98 474.72,296.31 474.74,295.22 474.76,293.83 474.77,292.88 474.79,291.53 474.82,289.7 474.84,289.41 474.87,290.48 474.89,291.72 474.92,294.29 474.94,295.63 474.97,297.64 474.99,298.52 475.02,299.77 475.04,300.31 475.07,301.08 475.09,301.41 475.12,301.89 475.14,302.11 475.17,302.43 475.19,302.58 475.2,302.68 475.22,302.8 475.24,302.9 475.27,303.06 475.29,303.14 475.32,303.25 475.34,303.31 475.37,303.4 475.39,303.44 475.42,303.51 475.44,303.54 475.47,303.6 475.49,303.62 475.52,303.66 475.54,303.68 475.57,303.71 475.59,303.73 475.62,303.75 475.64,303.76 475.67,303.77 475.69,303.78 475.7,303.78 475.72,303.79 475.74,303.79 475.77,303.79 475.79,303.79 475.82,303.78 475.84,303.77 475.87,303.75 475.89,303.74 475.92,303.7 475.94,303.68 475.97,303.62 475.99,303.58 476.02,303.49 476.04,303.43 476.07,303.29 476.09,303.19 476.12,302.95 476.14,302.79 476.17,302.39 476.19,302.11 476.2,301.85 476.22,301.47 476.24,301.04 476.27,300.21 476.29,299.82 476.32,299.49 476.34,299.6 476.37,300.23 476.42,301.51 476.47,302.45 476.52,303.03 476.57,303.39 476.62,303.62 476.67,303.77 476.7,303.84 476.72,303.88 476.77,303.95 476.82,304.01 476.87,304.06 476.92,304.09 476.97,304.12 477.02,304.14 477.07,304.16 477.12,304.18 477.17,304.19 477.2,304.2 477.22,304.21 477.27,304.22 477.32,304.23 477.37,304.24 477.42,304.24 477.47,304.25 477.52,304.26 477.57,304.26 477.62,304.27 477.67,304.27 477.7,304.28 477.72,304.28 477.77,304.28 477.82,304.29 478.2,304.31 478.7,304.33 479.2,304.34 479.7,304.35 480.2,304.36 480.7,304.36 481.2,304.37 481.7,304.37 482.2,304.37 482.7,304.38 483.2,304.38 483.7,304.38 484.2,304.38 484.7,304.38 485.2,304.38 485.7,304.38 486.2,304.39 486.7,304.39 487.2,304.39 487.7,304.39 488.2,304.39 488.7,304.39 489.2,304.39 489.7,304.39 490.2,304.39 490.7,304.39 491.2,304.39 491.7,304.39 492.2,304.39 492.7,304.39 493.2,304.39 493.7,304.39 494.2,304.39 494.7,304.39 495.2,304.39 495.7,304.39 496.2,304.39 496.7,304.39 497.2,304.4 497.7,304.4 498.2,304.4 498.7,304.4 499.2,304.4 499.7,304.4 500.2,304.4 500.7,304.4 501.2,304.4 501.7,304.4 502.2,304.4 502.7,304.4 503.2,304.4 503.7,304.4 504.2,304.4 504.7,304.4 505.2,304.4 505.7,304.4 506.2,304.4 506.7,304.4 507.2,304.4 507.7,304.4 508.2,304.4 508.7,304.4 509.2,304.4 509.7,304.4 510.2,304.4 510.7,304.4 511.2,304.4 511.7,304.4 512.2,304.4 512.7,304.4 513.2,304.4 513.7,304.4 514.2,304.4 514.7,304.4 515.2,304.4 515.7,304.4 516.2,304.4 516.7,304.4 517.2,304.4 517.7,304.4 518.2,304.4 518.7,304.4 519.2,304.4 519.7,304.4 520.2,304.4 520.7,304.4 521.2,304.4 521.7,304.4 522.2,304.4 522.7,304.4 523.2,304.4 523.7,304.4 524.2,304.4 524.7,304.4 525.2,304.4 525.7,304.4 526.2,304.4 526.7,304.4 527.2,304.4 527.7,304.4 528.2,304.4 528.7,304.4 529.2,304.4 529.7,304.4 530.2,304.4 530.7,304.4 531.2,304.4 531.7,304.4 532.2,304.4 532.7,304.4 533.2,304.4 533.7,304.4 534.2,304.4 534.7,304.4 535.2,304.4 535.7,304.4 536.2,304.4 536.7,304.4 537.2,304.4 537.7,304.4 538.2,304.4 538.7,304.4 539.2,304.4 539.7,304.4 540.2,304.4 540.7,304.4 541.2,304.4 541.7,304.4 542.2,304.4 542.7,304.4 543.2,304.4 543.7,304.4 544.2,304.4 544.7,304.4 545.2,304.4 545.7,304.4 546.2,304.4 546.7,304.4 547.2,304.4 547.7,304.4 548.2,304.4 548.7,304.4 549.2,304.4 549.7,304.4 550.2,304.4 550.7,304.4 551.2,304.4 551.7,304.4 552.2,304.4 552.7,304.4 553.2,304.4 553.7,304.4 554.2,304.4 554.7,304.4 555.2,304.4 555.7,304.4 556.2,304.4 556.7,304.4 557.2,304.4 557.7,304.4 558.2,304.4 558.7,304.4 559.2,304.4 559.7,304.4 560.2,304.4 560.7,304.4 561.2,304.4 561.7,304.4 562.2,304.4 562.7,304.4 563.2,304.4 563.7,304.4 564.2,304.4 564.7,304.4 565.2,304.4 565.7,304.4 566.2,304.4 566.7,304.4 567.2,304.4 567.7,304.4 568.2,304.4 568.7,304.4 569.2,304.4 569.7,304.4 570.2,304.4 570.7,304.4 571.2,304.4 571.7,304.4 572.2,304.4 572.7,304.4 573.2,304.4 573.7,304.4 574.2,304.4 574.7,304.4 575.2,304.4 575.7,304.4 576.2,304.4 576.7,304.4 577.2,304.4 577.7,304.4 578.2,304.4 578.7,304.4 579.2,304.4 579.7,304.4 580.2,304.4 580.7,304.4 581.2,304.4 581.7,304.4 582.2,304.4 582.7,304.4 583.2,304.4 583.7,304.4 584.2,304.4 584.7,304.4 585.2,304.4 585.7,304.4 586.2,304.4 586.7,304.4 587.2,304.4 587.7,304.4 588.2,304.4 588.7,304.4 589.2,304.4 589.7,304.4 590.2,304.4 590.7,304.4 591.2,304.4 591.7,304.4 592.2,304.4 592.7,304.4 593.2,304.4 593.7,304.39 594.2,304.39 594.7,304.39 595.2,304.39 595.7,304.39 596.2,304.39 596.7,304.39 597.2,304.39 597.7,304.39 598.2,304.39 598.7,304.39 599.2,304.39 599.7,304.39 600.2,304.39 600.7,304.39 601.2,304.39 601.7,304.39 602.2,304.39 602.7,304.39 603.2,304.39 603.7,304.39 604.2,304.39 604.7,304.39 605.2,304.39 605.7,304.39 606.2,304.39 606.7,304.39 607.2,304.39 607.7,304.39 608.2,304.39 608.7,304.38 609.2,304.38 609.7,304.38 610.2,304.38 610.7,304.38 611.2,304.38 611.7,304.38 612.2,304.38 612.7,304.38 613.2,304.37 613.7,304.37 614.2,304.37 614.7,304.37 615.2,304.37 615.7,304.36 616.2,304.36 616.7,304.36 617.2,304.35 617.7,304.35 618.2,304.34 618.7,304.34 619.2,304.33 619.7,304.32 620.2,304.31 620.7,304.29 621.2,304.28 621.7,304.26 622.2,304.23 622.7,304.19 623.2,304.14 623.7,304.06 624.2,303.95 624.7,303.74 625.1,303.44 625.15,303.38 625.2,303.32 625.25,303.25 625.3,303.18 625.35,303.1 625.4,303.01 625.45,302.91 625.5,302.79 625.55,302.66 625.6,302.52 625.65,302.35 625.7,302.15 625.75,301.92 625.8,301.65 625.85,301.32 625.9,300.94 625.95,300.46 626,299.87 626.05,299.13 626.1,298.19 626.15,296.94 626.2,295.27 626.25,292.96 626.3,289.65 626.35,284.75 626.4,277.22 626.45,265.45 626.5,247.67 626.55,226.02 626.6,214.5 626.65,225.93 626.7,247.49 626.75,265.18 626.8,276.86 626.85,284.29 626.9,289.09 626.95,292.3 627,294.5 627.05,296.05 627.05,296.05 627.1,297.17 627.15,297.99 627.2,298.58 627.25,299.01 627.3,299.3 627.3,299.3 627.35,299.5 627.4,299.6 627.45,299.62 627.5,299.57 627.55,299.45 627.55,299.45 627.6,299.25 627.65,298.97 627.7,298.59 627.75,298.1 627.8,297.47 627.8,297.47 627.85,296.67 627.9,295.65 627.95,294.33 628,292.61 628.05,290.32 628.05,290.32 628.1,287.2 628.15,282.86 628.2,276.62 628.25,267.33 628.3,253.04 628.35,230.62 628.4,196.74 628.45,155.46 628.5,133.55 628.55,155.45 628.6,196.73 628.65,230.61 628.7,253.02 628.75,267.3 628.8,276.59 628.85,282.82 628.85,282.82 628.9,287.16 628.95,290.26 628.95,290.26 629,292.54 629.05,294.26 629.1,295.56 629.1,295.56 629.15,296.57 629.2,297.35 629.2,297.35 629.25,297.96 629.3,298.42 629.35,298.77 629.35,298.77 629.4,299.02 629.45,299.17 629.45,299.17 629.5,299.23 629.55,299.21 629.6,299.09 629.6,299.09 629.65,298.86 629.7,298.5 629.7,298.5 629.75,297.98 629.8,297.25 629.85,296.23 629.85,296.23 629.9,294.78 629.95,292.73 629.95,292.73 630,289.72 630.05,285.21 630.1,278.21 630.15,267.2 630.2,250.52 630.2,250.52 630.25,230.18 630.3,219.41 630.35,230.28 630.4,250.73 630.45,267.52 630.5,278.64 630.55,285.74 630.6,290.38 630.65,293.51 630.7,295.69 630.7,295.69 630.75,297.28 630.8,298.45 630.85,299.35 630.9,300.05 630.95,300.61 631,301.06 631.05,301.43 631.1,301.74 631.15,302 631.2,302.22 631.2,302.22 631.25,302.41 631.3,302.57 631.35,302.71 631.4,302.84 631.45,302.95 631.5,303.04 631.55,303.13 631.6,303.21 631.65,303.28 631.7,303.34 631.7,303.34 631.75,303.4 631.8,303.45 632.2,303.75 632.7,303.95 633.2,304.07 633.7,304.14 634.2,304.19 634.7,304.23 635.2,304.26 635.7,304.28 636.2,304.29 636.7,304.31 637.2,304.32 637.7,304.33 638.2,304.34 638.7,304.34 639.2,304.35 639.7,304.35 640.2,304.36 640.7,304.36 641.2,304.36 641.7,304.37 642.2,304.37 642.7,304.37 643.2,304.37 643.7,304.37 644.2,304.38 644.7,304.38 645.2,304.38 645.7,304.38 646.2,304.38 646.7,304.38 647.2,304.38 647.7,304.38 648.2,304.38 648.7,304.39 649.2,304.39 649.7,304.39 650.2,304.39 650.7,304.39 651.2,304.39 651.7,304.39 652.2,304.39 652.7,304.39 653.2,304.39 653.7,304.39 654.2,304.39 654.7,304.39 655.2,304.39 655.7,304.39 656.2,304.39 656.7,304.39 657.2,304.39 657.7,304.39 658.2,304.39 658.7,304.39 659.2,304.39 659.7,304.39 660.2,304.39 660.7,304.39 661.2,304.39 661.7,304.39 662.2,304.39 662.7,304.39 663.2,304.39 663.7,304.39 664.2,304.4 664.7,304.4 665.2,304.4 665.7,304.4 666.2,304.4 666.7,304.4 667.2,304.4 667.7,304.4 668.2,304.4 668.7,304.4 669.2,304.4 669.7,304.4 670.2,304.4 670.7,304.4 671.2,304.4 671.7,304.4 672.2,304.4 672.7,304.4 673.2,304.4 673.7,304.4 674.2,304.4 674.7,304.4 675.2,304.4 675.7,304.4 676.2,304.4 676.7,304.4 677.2,304.4 677.7,304.4 678.2,304.4 678.7,304.4 679.2,304.4 679.7,304.4 680.2,304.4 680.7,304.4 681.2,304.4 681.7,304.4 682.2,304.4 682.7,304.4 683.2,304.4 683.7,304.4 684.2,304.4 684.7,304.4 685.2,304.4 685.7,304.4 686.2,304.4 686.7,304.4 687.2,304.4 687.7,304.4 688.2,304.4 688.7,304.4 689.2,304.4 689.7,304.4 690.2,304.4 690.7,304.4 691.2,304.4 691.7,304.4 692.2,304.4 692.7,304.4 693.2,304.4 693.7,304.4 694.2,304.4 694.7,304.4 695.2,304.4 695.7,304.39 696.2,304.39 696.7,304.39 697.2,304.39 697.7,304.39 698.2,304.39 698.7,304.39 699.2,304.39 699.7,304.39 700.2,304.39 700.7,304.39 701.2,304.39 701.7,304.38 702.2,304.38 702.7,304.38 703.2,304.38 703.7,304.37 704.2,304.36 704.7,304.35 705.2,304.34 705.7,304.31 706.2,304.27 706.7,304.18 706.9,304.12 706.95,304.1 707,304.08 707.05,304.06 707.1,304.03 707.15,304 707.2,303.97 707.2,303.97 707.25,303.93 707.3,303.89 707.35,303.84 707.4,303.78 707.45,303.72 707.5,303.64 707.55,303.55 707.6,303.45 707.65,303.32 707.7,303.17 707.7,303.17 707.75,302.98 707.8,302.75 707.85,302.46 707.9,302.09 707.95,301.6 708,300.95 708.05,300.05 708.1,298.8 708.15,296.99 708.2,294.32 708.2,294.32 708.25,290.4 708.3,285.01 708.35,279.2 708.4,276.4 708.45,279.2 708.5,285.01 708.55,290.4 708.6,294.32 708.65,296.99 708.7,298.8 708.7,298.8 708.75,300.05 708.8,300.95 708.85,301.6 708.9,302.09 708.95,302.46 709,302.75 709.05,302.98 709.1,303.17 709.15,303.32 709.2,303.45 709.2,303.45 709.25,303.55 709.3,303.64 709.35,303.72 709.4,303.78 709.45,303.84 709.5,303.89 709.55,303.93 709.6,303.97 709.65,304 709.7,304.03 709.7,304.03 709.75,304.06 709.8,304.08 709.85,304.1 709.9,304.12 710.2,304.21 710.7,304.28 711.2,304.32 711.7,304.34 712.2,304.36 712.7,304.37 713.2,304.37 713.7,304.38 714.2,304.38 714.7,304.38 715.2,304.39 715.7,304.39 716.2,304.39 716.7,304.39 717.2,304.39 717.7,304.39 718.2,304.39 718.7,304.39 719.2,304.39 719.7,304.39 720.2,304.39 720.7,304.4 721.2,304.4 721.7,304.4 722.2,304.4 722.7,304.4 723.2,304.4 723.7,304.4 724.2,304.4 724.7,304.4 725.2,304.4 725.7,304.4 726.2,304.4 726.7,304.4 727.2,304.4 727.7,304.4 728.2,304.4 728.7,304.4 729.2,304.4 729.7,304.4 730.2,304.4 730.7,304.4 731.2,304.4 731.7,304.4 732.2,304.4 732.7,304.4 733.2,304.4 733.7,304.4 734.2,304.4 734.7,304.4 735.2,304.4 735.7,304.4 736.2,304.4 736.7,304.4 737.2,304.4 737.7,304.4 738.2,304.4 738.7,304.4 739.2,304.4" fill="none" stroke="#000" stroke-width="1.1" stroke-linejoin="round"/>
<line x1="330.3" y1="246.5" x2="349" y2="283.3" stroke="#000" stroke-width="1"/>
<rect x="330.5" y="116.5" width="45" height="130" fill="#fff" stroke="#000" stroke-width="1.2"/>
<polyline points="333.3,240.92 333.5,240.89 333.7,240.86 333.9,240.83 334.1,240.8 334.3,240.76 334.5,240.73 334.7,240.69 334.9,240.65 335.1,240.6 335.3,240.56 335.5,240.51 335.7,240.46 335.9,240.41 336.1,240.36 336.3,240.3 336.5,240.24 336.7,240.17 336.9,240.1 337.1,240.03 337.3,239.95 337.5,239.87 337.7,239.78 337.9,239.69 338.1,239.59 338.3,239.48 338.5,239.36 338.7,239.24 338.9,239.11 339.1,238.96 339.3,238.81 339.5,238.64 339.7,238.46 339.9,238.26 340.1,238.04 340.3,237.8 340.5,237.54 340.7,237.26 340.9,236.94 341.1,236.6 341.3,236.21 341.5,235.78 341.7,235.29 341.9,234.75 342.1,234.14 342.3,233.44 342.5,232.65 342.7,231.74 342.9,230.69 343.1,229.48 343.3,228.05 343.5,226.38 343.7,224.4 343.9,222.03 344.1,219.19 344.3,215.74 344.5,211.53 344.7,206.37 344.9,200.03 345.1,192.27 345.3,182.87 345.5,171.82 345.7,159.52 345.9,147.11 346.1,136.71 346.3,130.93 346.5,131.57 346.7,138.42 346.9,149.37 347.1,161.83 347.3,173.89 347.5,184.57 347.7,193.57 347.9,200.97 348.1,206.99 348.3,211.88 348.5,215.86 348.7,219.11 348.9,221.78 349.1,223.99 349.3,225.83 349.5,227.37 349.7,228.67 349.9,229.76 350.1,230.69 350.3,231.49 350.5,232.16 350.7,232.73 350.9,233.22 351.1,233.64 351.3,233.98 351.5,234.27 351.7,234.51 351.9,234.7 352.1,234.85 352.3,234.95 352.5,235.01 352.7,235.04 352.9,235.03 353.1,234.98 353.3,234.89 353.5,234.76 353.7,234.58 353.9,234.37 354.1,234.1 354.3,233.77 354.5,233.39 354.7,232.93 354.9,232.39 355.1,231.77 355.3,231.03 355.5,230.17 355.7,229.16 355.9,227.96 356.1,226.55 356.3,224.87 356.5,222.86 356.7,220.44 356.9,217.51 357.1,213.94 357.3,209.57 357.5,204.2 357.7,197.58 357.9,189.46 358.1,179.64 358.3,168.13 358.5,155.4 358.7,142.74 358.9,132.42 359.1,127.11 359.3,128.52 359.5,136.19 359.7,147.82 359.9,160.78 360.1,173.18 360.3,184.09 360.5,193.27 360.7,200.82 360.9,206.97 361.1,211.98 361.3,216.07 361.5,219.43 361.7,222.21 361.9,224.52 362.1,226.46 362.3,228.1 362.5,229.5 362.7,230.7 362.9,231.74 363.1,232.64 363.3,233.42 363.5,234.11 363.7,234.72 363.9,235.26 364.1,235.74 364.3,236.17 364.5,236.56 364.7,236.91 364.9,237.22 365.1,237.51 365.3,237.77 365.5,238.01 365.7,238.23 365.9,238.42 366.1,238.61 366.3,238.78 366.5,238.93 366.7,239.08 366.9,239.21 367.1,239.34 367.3,239.45 367.5,239.56 367.7,239.66 367.9,239.76 368.1,239.85 368.3,239.93 368.5,240.01 368.7,240.08 368.9,240.15 369.1,240.22 369.3,240.28 369.5,240.34 369.7,240.39 369.9,240.45 370.1,240.5 370.3,240.54 370.5,240.59 370.7,240.63 370.9,240.67 371.1,240.71 371.3,240.75 371.5,240.79 371.7,240.82 371.9,240.85 372.1,240.88" fill="none" stroke="#000" stroke-width="1.25" stroke-linejoin="round"/>
<line x1="394.3" y1="246.5" x2="412.8" y2="283.3" stroke="#000" stroke-width="1"/>
<rect x="394.5" y="116.5" width="44" height="130" fill="#fff" stroke="#000" stroke-width="1.2"/>
<polyline points="398.2,240.99 398.4,240.95 398.6,240.91 398.8,240.86 399,240.81 399.2,240.76 399.4,240.71 399.6,240.66 399.8,240.6 400,240.54 400.2,240.48 400.4,240.41 400.6,240.34 400.8,240.26 401,240.18 401.2,240.09 401.4,240 401.6,239.9 401.8,239.79 402,239.68 402.2,239.56 402.4,239.43 402.6,239.29 402.8,239.14 403,238.98 403.2,238.8 403.4,238.61 403.6,238.41 403.8,238.18 404,237.93 404.2,237.66 404.4,237.37 404.6,237.04 404.8,236.68 405,236.28 405.2,235.83 405.4,235.34 405.6,234.78 405.8,234.15 406,233.43 406.2,232.62 406.4,231.69 406.6,230.63 406.8,229.4 407,227.96 407.2,226.28 407.4,224.31 407.6,221.96 407.8,219.17 408,215.81 408.2,211.76 408.4,206.86 408.6,200.93 408.8,193.8 409,185.36 409.2,175.66 409.4,165.12 409.6,154.7 409.8,146.01 410,140.97 410.2,140.94 410.4,145.93 410.6,154.56 410.8,164.92 411,175.41 411.2,185.04 411.4,193.42 411.6,200.49 411.8,206.36 412,211.2 412.2,215.18 412.4,218.47 412.6,221.2 412.8,223.47 413,225.38 413.2,226.98 413.4,228.33 413.6,229.48 413.8,230.45 414,231.29 414.2,232 414.4,232.61 414.6,233.13 414.8,233.57 415,233.94 415.2,234.26 415.4,234.51 415.6,234.72 415.8,234.88 416,235 416.2,235.08 416.4,235.12 416.6,235.12 416.8,235.08 417,234.99 417.2,234.87 417.4,234.7 417.6,234.49 417.8,234.23 418,233.91 418.2,233.52 418.4,233.07 418.6,232.53 418.8,231.9 419,231.17 419.2,230.3 419.4,229.29 419.6,228.1 419.8,226.68 420,225.01 420.2,223.01 420.4,220.62 420.6,217.74 420.8,214.25 421,210.03 421.2,204.89 421.4,198.69 421.6,191.25 421.8,182.55 422,172.79 422.2,162.59 422.4,153.21 422.6,146.44 422.8,143.96 423,146.5 423.2,153.33 423.4,162.76 423.6,173.02 423.8,182.85 424,191.61 424.2,199.11 424.4,205.38 424.6,210.57 424.8,214.87 425,218.42 425.2,221.37 425.4,223.84 425.6,225.91 425.8,227.67 426,229.16 426.2,230.44 426.4,231.55 426.6,232.5 426.8,233.34 427,234.07 427.2,234.72 427.4,235.29 427.6,235.8 427.8,236.26 428,236.66 428.2,237.03 428.4,237.36 428.6,237.66 428.8,237.94 429,238.19 429.2,238.41 429.4,238.62 429.6,238.81 429.8,238.99 430,239.15 430.2,239.3 430.4,239.44 430.6,239.57 430.8,239.7 431,239.81 431.2,239.91 431.4,240.01 431.6,240.1 431.8,240.19 432,240.27 432.2,240.35 432.4,240.42 432.6,240.49" fill="none" stroke="#000" stroke-width="1.25" stroke-linejoin="round"/>
<line x1="450.3" y1="246.5" x2="464.2" y2="284" stroke="#000" stroke-width="1"/>
<rect x="450.5" y="132.5" width="158" height="114" fill="#fff" stroke="#000" stroke-width="1.2"/>
<polyline points="453,240.19 453.2,240.16 453.4,240.13 453.6,240.1 453.8,240.07 454,240.04 454.2,240 454.4,239.96 454.6,239.92 454.8,239.87 455,239.82 455.2,239.76 455.4,239.7 455.6,239.63 455.8,239.55 456,239.46 456.2,239.36 456.4,239.25 456.6,239.13 456.8,238.99 457,238.83 457.2,238.64 457.4,238.43 457.6,238.18 457.8,237.89 458,237.55 458.2,237.14 458.4,236.66 458.6,236.08 458.8,235.39 459,234.57 459.2,233.59 459.4,232.46 459.6,231.18 459.8,229.82 460,228.51 460.2,227.44 460.4,226.82 460.6,226.81 460.8,227.4 461,228.46 461.2,229.75 461.4,231.09 461.6,232.35 461.8,233.46 462,234.41 462.2,235.22 462.4,235.88 462.6,236.44 462.8,236.9 463,237.28 463.2,237.6 463.4,237.87 463.6,238.1 463.8,238.29 464,238.45 464.2,238.58 464.4,238.7 464.6,238.8 464.8,238.88 465,238.95 465.2,239.01 465.4,239.06 465.6,239.1 465.8,239.13 466,239.16 466.2,239.18 466.4,239.19 466.6,239.2 466.8,239.2 467,239.2 467.2,239.2 467.4,239.19 467.6,239.18 467.8,239.16 468,239.14 468.2,239.12 468.4,239.09 468.6,239.06 468.8,239.02 469,238.98 469.2,238.93 469.4,238.88 469.6,238.83 469.8,238.77 470,238.7 470.2,238.63 470.4,238.56 470.6,238.47 470.8,238.38 471,238.28 471.2,238.16 471.4,238.04 471.6,237.91 471.8,237.76 472,237.6 472.2,237.43 472.4,237.23 472.6,237.01 472.8,236.77 473,236.5 473.2,236.2 473.4,235.86 473.6,235.47 473.8,235.03 474,234.54 474.2,233.96 474.4,233.31 474.6,232.54 474.8,231.65 475,230.6 475.2,229.37 475.4,227.9 475.6,226.16 475.8,224.07 476,221.58 476.2,218.62 476.4,215.14 476.6,211.15 476.8,206.76 477,202.28 477.2,198.23 477.4,195.32 477.6,194.19 477.8,195.09 478,197.78 478.2,201.59 478.4,205.83 478.6,209.96 478.8,213.69 479,216.88 479.2,219.54 479.4,221.69 479.6,223.4 479.8,224.73 480,225.73 480.2,226.44 480.4,226.88 480.6,227.07 480.8,227.02 481,226.73 481.2,226.17 481.4,225.33 481.6,224.18 481.8,222.67 482,220.77 482.2,218.48 482.4,215.83 482.6,212.97 482.8,210.18 483,207.92 483.2,206.68 483.4,206.79 483.6,208.27 483.8,210.76 484,213.79 484.2,216.91 484.4,219.83 484.6,222.43 484.8,224.65 485,226.52 485.2,228.08 485.4,229.38 485.6,230.46 485.8,231.36 486,232.11 486.2,232.74 486.4,233.26 486.6,233.7 486.8,234.07 487,234.37 487.2,234.63 487.4,234.83 487.6,235 487.8,235.14 488,235.24 488.2,235.31 488.4,235.35 488.6,235.37 488.8,235.37 489,235.34 489.2,235.28 489.4,235.2 489.6,235.1 489.8,234.97 490,234.81 490.2,234.62 490.4,234.4 490.6,234.14 490.8,233.85 491,233.5 491.2,233.1 491.4,232.64 491.6,232.11 491.8,231.5 492,230.79 492.2,229.96 492.4,228.98 492.6,227.84 492.8,226.48 493,224.88 493.2,222.97 493.4,220.68 493.6,217.97 493.8,214.77 494,211.05 494.2,206.86 494.4,202.39 494.6,198.04 494.8,194.41 495,192.17 495.2,191.79 495.4,193.26 495.6,196.11 495.8,199.66 496,203.27 496.2,206.55 496.4,209.29 496.6,211.43 496.8,212.96 497,213.92 497.2,214.34 497.4,214.25 497.6,213.65 497.8,212.52 498,210.82 498.2,208.51 498.4,205.48 498.6,201.64 498.8,196.86 499,191 499.2,183.98 499.4,175.82 499.6,166.79 499.8,157.53 500,149.19 500.2,143.31 500.4,141.25 500.6,143.62 500.8,149.83 501,158.49 501.2,168.09 501.4,177.49 501.6,186.04 501.8,193.49 502,199.82 502.2,205.13 502.4,209.56 502.6,213.27 502.8,216.36 503,218.96 503.2,221.16 503.4,223.02 503.6,224.6 503.8,225.96 504,227.13 504.2,228.14 504.4,229.02 504.6,229.78 504.8,230.44 505,231.03 505.2,231.54 505.4,231.98 505.6,232.37 505.8,232.72 506,233.02 506.2,233.28 506.4,233.5 506.6,233.69 506.8,233.86 507,233.99 507.2,234.1 507.4,234.18 507.6,234.24 507.8,234.27 508,234.28 508.2,234.26 508.4,234.22 508.6,234.16 508.8,234.06 509,233.94 509.2,233.78 509.4,233.59 509.6,233.35 509.8,233.07 510,232.73 510.2,232.33 510.4,231.85 510.6,231.28 510.8,230.61 511,229.81 511.2,228.86 511.4,227.75 511.6,226.46 511.8,225.01 512,223.45 512.2,221.89 512.4,220.51 512.6,219.51 512.8,219.01 513,219.02 513.2,219.37 513.4,219.86 513.6,220.29 513.8,220.53 514,220.5 514.2,220.16 514.4,219.48 514.6,218.45 514.8,217.02 515,215.17 515.2,212.82 515.4,209.91 515.6,206.32 515.8,201.94 516,196.63 516.2,190.24 516.4,182.67 516.6,173.95 516.8,164.32 517,154.45 517.2,145.49 517.4,138.99 517.6,136.34 517.8,138.11 518,143.72 518.2,151.72 518.4,160.55 518.6,169.01 518.8,176.41 519,182.44 519.2,187.04 519.4,190.26 519.6,192.22 519.8,193.06 520,193 520.2,192.37 520.4,191.66 520.6,191.46 520.8,192.3 521,194.44 521.2,197.72 521.4,201.68 521.6,205.84 521.8,209.81 522,213.41 522.2,216.55 522.4,219.23 522.6,221.51 522.8,223.44 523,225.07 523.2,226.46 523.4,227.64 523.6,228.66 523.8,229.53 524,230.29 524.2,230.94 524.4,231.51 524.6,232.01 524.8,232.45 525,232.83 525.2,233.17 525.4,233.47 525.6,233.73 525.8,233.96 526,234.16 526.2,234.33 526.4,234.48 526.6,234.61 526.8,234.72 527,234.81 527.2,234.88 527.4,234.93 527.6,234.96 527.8,234.98 528,234.98 528.2,234.97 528.4,234.94 528.6,234.89 528.8,234.83 529,234.75 529.2,234.65 529.4,234.53 529.6,234.38 529.8,234.22 530,234.03 530.2,233.81 530.4,233.56 530.6,233.27 530.8,232.95 531,232.58 531.2,232.16 531.4,231.68 531.6,231.13 531.8,230.5 532,229.78 532.2,228.94 532.4,227.98 532.6,226.85 532.8,225.53 533,223.97 533.2,222.14 533.4,219.98 533.6,217.44 533.8,214.47 534,211.07 534.2,207.29 534.4,203.32 534.6,199.5 534.8,196.25 535,193.98 535.2,192.81 535.4,192.52 535.6,192.58 535.8,192.45 536,191.65 536.2,189.86 536.4,186.85 536.6,182.48 536.8,176.69 537,169.52 537.2,161.28 537.4,152.66 537.6,144.84 537.8,139.37 538,137.67 538.2,140.34 538.4,146.8 538.6,155.68 538.8,165.46 539,175 539.2,183.65 539.4,191.16 539.6,197.52 539.8,202.83 540,207.22 540.2,210.85 540.4,213.83 540.6,216.28 540.8,218.27 541,219.87 541.2,221.12 541.4,222.08 541.6,222.74 541.8,223.14 542,223.27 542.2,223.14 542.4,222.76 542.6,222.15 542.8,221.39 543,220.61 543.2,220.01 543.4,219.81 543.6,220.15 543.8,221.04 544,222.34 544.2,223.85 544.4,225.37 544.6,226.79 544.8,228.05 545,229.13 545.2,230.04 545.4,230.81 545.6,231.45 545.8,231.98 546,232.42 546.2,232.79 546.4,233.09 546.6,233.33 546.8,233.53 547,233.68 547.2,233.8 547.4,233.88 547.6,233.93 547.8,233.95 548,233.94 548.2,233.9 548.4,233.84 548.6,233.74 548.8,233.62 549,233.47 549.2,233.28 549.4,233.06 549.6,232.8 549.8,232.51 550,232.16 550.2,231.77 550.4,231.32 550.6,230.8 550.8,230.21 551,229.54 551.2,228.76 551.4,227.87 551.6,226.84 551.8,225.65 552,224.27 552.2,222.65 552.4,220.76 552.6,218.52 552.8,215.86 553,212.7 553.2,208.93 553.4,204.4 553.6,198.98 553.8,192.51 554,184.91 554.2,176.18 554.4,166.59 554.6,156.79 554.8,147.95 555,141.62 555.2,139.22 555.4,141.33 555.6,147.37 555.8,155.92 556,165.41 556.2,174.68 556.4,183.06 556.6,190.28 556.8,196.32 557,201.29 557.2,205.3 557.4,208.49 557.6,210.99 557.8,212.88 558,214.22 558.2,215.08 558.4,215.47 558.6,215.4 558.8,214.85 559,213.8 559.2,212.2 559.4,210.01 559.6,207.2 559.8,203.79 560,199.91 560.2,195.88 560.4,192.25 560.6,189.75 560.8,189.05 561,190.42 561.2,193.59 561.4,197.91 561.6,202.66 561.8,207.29 562,211.51 562.2,215.19 562.4,218.32 562.6,220.96 562.8,223.18 563,225.03 563.2,226.59 563.4,227.91 563.6,229.02 563.8,229.97 564,230.78 564.2,231.48 564.4,232.08 564.6,232.59 564.8,233.04 565,233.43 565.2,233.77 565.4,234.06 565.6,234.31 565.8,234.52 566,234.7 566.2,234.85 566.4,234.98 566.6,235.07 566.8,235.14 567,235.19 567.2,235.21 567.4,235.21 567.6,235.18 567.8,235.12 568,235.03 568.2,234.92 568.4,234.77 568.6,234.58 568.8,234.35 569,234.08 569.2,233.74 569.4,233.34 569.6,232.87 569.8,232.3 570,231.63 570.2,230.82 570.4,229.85 570.6,228.69 570.8,227.3 571,225.62 571.2,223.61 571.4,221.22 571.6,218.43 571.8,215.29 572,211.95 572.2,208.7 572.4,206.02 572.6,204.44 572.8,204.32 573,205.67 573.2,208.11 573.4,211.11 573.6,214.2 573.8,217.06 574,219.55 574.2,221.61 574.4,223.26 574.6,224.54 574.8,225.48 575,226.12 575.2,226.49 575.4,226.61 575.6,226.49 575.8,226.11 576,225.48 576.2,224.55 576.4,223.3 576.6,221.68 576.8,219.62 577,217.07 577.2,213.97 577.4,210.29 577.6,206.09 577.8,201.6 578,197.25 578.2,193.7 578.4,191.73 578.6,191.84 578.8,194.05 579,197.83 579.2,202.42 579.4,207.17 579.6,211.62 579.8,215.58 580,218.99 580.2,221.86 580.4,224.27 580.6,226.29 580.8,227.98 581,229.4 581.2,230.6 581.4,231.62 581.6,232.49 581.8,233.24 582,233.89 582.2,234.45 582.4,234.94 582.6,235.37 582.8,235.76 583,236.09 583.2,236.39 583.4,236.66 583.6,236.9 583.8,237.12 584,237.32 584.2,237.49 584.4,237.65 584.6,237.8 584.8,237.93 585,238.05 585.2,238.16 585.4,238.26 585.6,238.35 585.8,238.44 586,238.51 586.2,238.58 586.4,238.64 586.6,238.7 586.8,238.75 587,238.8 587.2,238.84 587.4,238.87 587.6,238.91 587.8,238.93 588,238.95 588.2,238.97 588.4,238.98 588.6,238.99 588.8,238.99 589,238.99 589.2,238.98 589.4,238.96 589.6,238.94 589.8,238.91 590,238.87 590.2,238.83 590.4,238.77 590.6,238.71 590.8,238.63 591,238.53 591.2,238.42 591.4,238.29 591.6,238.14 591.8,237.95 592,237.74 592.2,237.48 592.4,237.17 592.6,236.81 592.8,236.37 593,235.85 593.2,235.21 593.4,234.45 593.6,233.54 593.8,232.45 594,231.18 594.2,229.75 594.4,228.23 594.6,226.75 594.8,225.55 595,224.87 595.2,224.88 595.4,225.58 595.6,226.81 595.8,228.31 596,229.85 596.2,231.31 596.4,232.6 596.6,233.71 596.8,234.65 597,235.44 597.2,236.09 597.4,236.64 597.6,237.11 597.8,237.5 598,237.83 598.2,238.11 598.4,238.35 598.6,238.57 598.8,238.75 599,238.91 599.2,239.05 599.4,239.17 599.6,239.28 599.8,239.38 600,239.47 600.2,239.55 600.4,239.62 600.6,239.69 600.8,239.75 601,239.8 601.2,239.85 601.4,239.9 601.6,239.94 601.8,239.98 602,240.02 602.2,240.05 602.4,240.08 602.6,240.11 602.8,240.14 603,240.16 603.2,240.19 603.4,240.21 603.6,240.23 603.8,240.25 604,240.27 604.2,240.29 604.4,240.3" fill="none" stroke="#000" stroke-width="1.25" stroke-linejoin="round"/>
<line x1="648.6" y1="246.5" x2="633" y2="265" stroke="#000" stroke-width="1"/>
<rect x="648.5" y="103.5" width="69" height="143" fill="#fff" stroke="#000" stroke-width="1.2"/>
<polyline points="652.3,241.16 652.5,241.14 652.7,241.12 652.9,241.1 653.1,241.08 653.3,241.05 653.5,241.03 653.7,241.01 653.9,240.98 654.1,240.96 654.3,240.93 654.5,240.9 654.7,240.87 654.9,240.84 655.1,240.81 655.3,240.77 655.5,240.74 655.7,240.7 655.9,240.66 656.1,240.62 656.3,240.58 656.5,240.53 656.7,240.48 656.9,240.43 657.1,240.38 657.3,240.32 657.5,240.26 657.7,240.2 657.9,240.13 658.1,240.06 658.3,239.98 658.5,239.9 658.7,239.81 658.9,239.72 659.1,239.62 659.3,239.51 659.5,239.4 659.7,239.27 659.9,239.14 660.1,238.99 660.3,238.84 660.5,238.66 660.7,238.48 660.9,238.27 661.1,238.05 661.3,237.8 661.5,237.53 661.7,237.24 661.9,236.9 662.1,236.53 662.3,236.12 662.5,235.66 662.7,235.13 662.9,234.54 663.1,233.87 663.3,233.1 663.5,232.21 663.7,231.19 663.9,230 664.1,228.61 664.3,226.97 664.5,225.03 664.7,222.72 664.9,219.97 665.1,216.67 665.3,212.72 665.5,208.02 665.7,202.49 665.9,196.14 666.1,189.16 666.3,182.04 666.5,175.63 666.7,171.07 666.9,169.39 667.1,171.03 667.3,175.55 667.5,181.92 667.7,189 667.9,195.93 668.1,202.24 668.3,207.73 668.5,212.39 668.7,216.29 668.9,219.55 669.1,222.26 669.3,224.52 669.5,226.41 669.7,228 669.9,229.34 670.1,230.48 670.3,231.46 670.5,232.29 670.7,233.01 670.9,233.63 671.1,234.16 671.3,234.62 671.5,235.03 671.7,235.38 671.9,235.68 672.1,235.94 672.3,236.17 672.5,236.37 672.7,236.54 672.9,236.68 673.1,236.8 673.3,236.9 673.5,236.97 673.7,237.03 673.9,237.07 674.1,237.1 674.3,237.11 674.5,237.1 674.7,237.08 674.9,237.04 675.1,236.99 675.3,236.92 675.5,236.83 675.7,236.73 675.9,236.61 676.1,236.48 676.3,236.32 676.5,236.14 676.7,235.94 676.9,235.72 677.1,235.46 677.3,235.18 677.5,234.87 677.7,234.52 677.9,234.13 678.1,233.69 678.3,233.2 678.5,232.65 678.7,232.03 678.9,231.34 679.1,230.56 679.3,229.67 679.5,228.66 679.7,227.51 679.9,226.2 680.1,224.68 680.3,222.92 680.5,220.88 680.7,218.5 680.9,215.69 681.1,212.37 681.3,208.43 681.5,203.72 681.7,198.08 681.9,191.31 682.1,183.22 682.3,173.63 682.5,162.45 682.7,149.86 682.9,136.46 683.1,123.51 683.3,112.93 683.5,106.9 683.7,106.9 683.9,112.94 684.1,123.52 684.3,136.48 684.5,149.88 684.7,162.48 684.9,173.66 685.1,183.26 685.3,191.35 685.5,198.12 685.7,203.76 685.9,208.48 686.1,212.43 686.3,215.75 686.5,218.56 686.7,220.96 686.9,223 687.1,224.77 687.3,226.29 687.5,227.61 687.7,228.77 687.9,229.78 688.1,230.68 688.3,231.47 688.5,232.17 688.7,232.79 688.9,233.35 689.1,233.85 689.3,234.3 689.5,234.7 689.7,235.06 689.9,235.39 690.1,235.68 690.3,235.95 690.5,236.19 690.7,236.41 690.9,236.6 691.1,236.78 691.3,236.93 691.5,237.07 691.7,237.2 691.9,237.31 692.1,237.4 692.3,237.48 692.5,237.55 692.7,237.61 692.9,237.66 693.1,237.69 693.3,237.71 693.5,237.72 693.7,237.71 693.9,237.7 694.1,237.67 694.3,237.63 694.5,237.57 694.7,237.5 694.9,237.41 695.1,237.3 695.3,237.18 695.5,237.03 695.7,236.87 695.9,236.67 696.1,236.45 696.3,236.19 696.5,235.9 696.7,235.56 696.9,235.18 697.1,234.73 697.3,234.22 697.5,233.64 697.7,232.96 697.9,232.17 698.1,231.25 698.3,230.17 698.5,228.91 698.7,227.41 698.9,225.62 699.1,223.5 699.3,220.95 699.5,217.88 699.7,214.21 699.9,209.83 700.1,204.67 700.3,198.73 700.5,192.21 700.7,185.55 700.9,179.57 701.1,175.31 701.3,173.77 701.5,175.35 701.7,179.64 701.9,185.66 702.1,192.35 702.3,198.91 702.5,204.88 702.7,210.08 702.9,214.5 703.1,218.21 703.3,221.3 703.5,223.89 703.7,226.06 703.9,227.88 704.1,229.42 704.3,230.73 704.5,231.85 704.7,232.81 704.9,233.64 705.1,234.36 705.3,235 705.5,235.55 705.7,236.04 705.9,236.48 706.1,236.87 706.3,237.21 706.5,237.52 706.7,237.8 706.9,238.06 707.1,238.29 707.3,238.5 707.5,238.69 707.7,238.86 707.9,239.03 708.1,239.17 708.3,239.31 708.5,239.43 708.7,239.55 708.9,239.66 709.1,239.76 709.3,239.85 709.5,239.94 709.7,240.02 709.9,240.1 710.1,240.17 710.3,240.24 710.5,240.3 710.7,240.36 710.9,240.42 711.1,240.47 711.3,240.52 711.5,240.57 711.7,240.61 711.9,240.66 712.1,240.7 712.3,240.74 712.5,240.77 712.7,240.81 712.9,240.84" fill="none" stroke="#000" stroke-width="1.25" stroke-linejoin="round"/>
<text x="354.8" y="264.6" class="mg" text-anchor="middle">1426</text>
<text x="421.2" y="269.5" class="mg" text-anchor="middle">1458</text>
<text x="472.3" y="268.3" class="mg" text-anchor="middle">5698</text>
<text x="628" y="129.8" class="mg" text-anchor="middle">8786</text>
</svg>
</body></html>
